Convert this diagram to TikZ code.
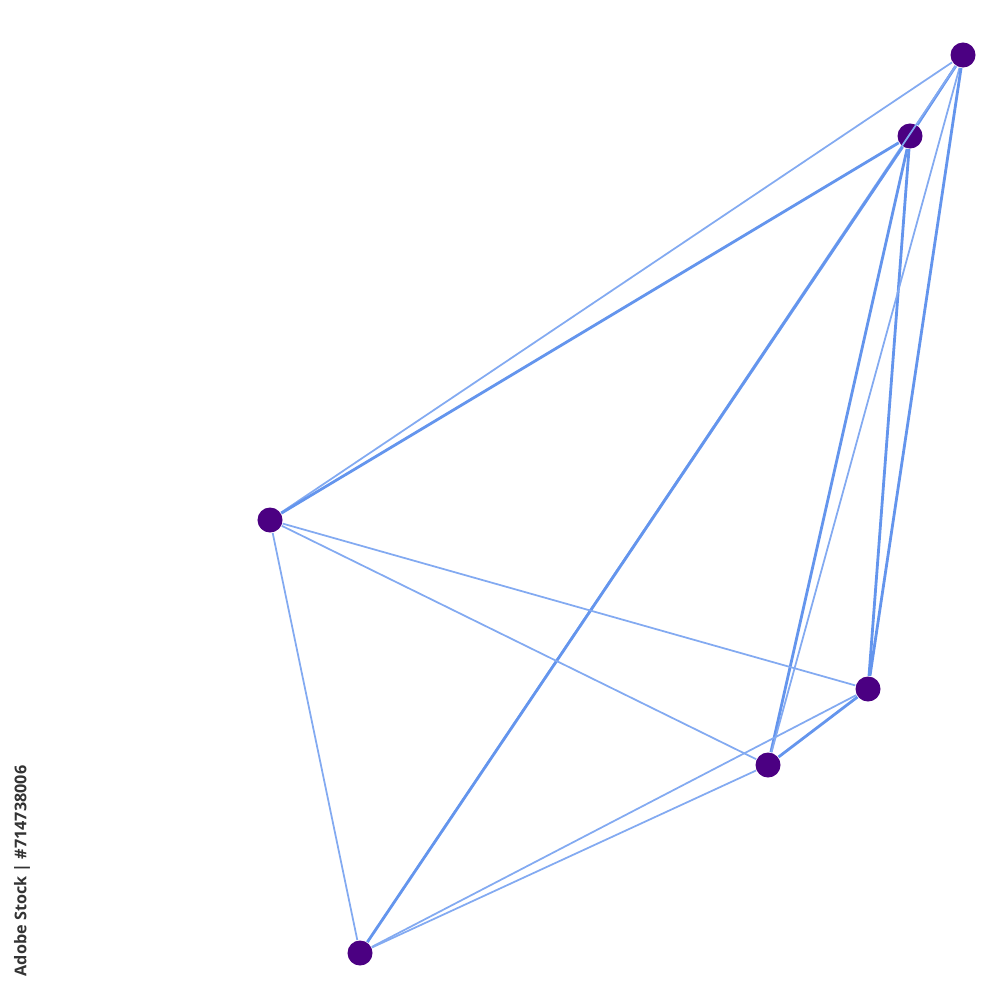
\documentclass[tikz,border=0pt]{standalone}
\usepackage{fontspec}
\setsansfont{Open Sans}
\usepackage{tikz}
\usetikzlibrary{positioning}
\definecolor{edgeblue}{RGB}{100,149,237}
\definecolor{vertexpurple}{RGB}{75,0,130}
\tikzset{vertex/.style={circle,fill=vertexpurple,inner sep=0pt,minimum size=0.25cm},
	link/.style={draw=edgeblue,line width=0.8pt},
	thinlink/.style={draw=edgeblue!80,line width=0.5pt}}

\begin{document}
\begin{tikzpicture}[x=0.01cm,y=-0.01cm]
\useasboundingbox (0,0) rectangle (1000,1000);
\node[vertex](a) at (963,55) {};
\node[vertex](b) at (910,136) {};
\node[vertex](c) at (270,520) {};
\node[vertex](d) at (868,689) {};
\node[vertex](e) at (768,765) {};
\node[vertex](f) at (360,953) {};

\draw	(a) edge[thinlink] (c)
		(b) edge[link] (c)
		(a) edge[link] (b)
		(a) edge[thinlink] (f)
		(b) edge[link] (f)
		(b) edge[link] (e)
		(b) edge[link] (d)
		(a) edge[thinlink] (e)
		(a) edge[link] (d)
		(c) edge[thinlink] (d)
		(c) edge[thinlink] (e)
		(c) edge[thinlink] (f)
		(f) edge[thinlink] (d)
		(f) edge[thinlink] (e)
		(e) edge[link] (d)
		;

\node[rotate=90,anchor=west,inner sep=0pt,font=\sffamily\bfseries\fontsize{4.6}{5}\selectfont,text=black!80] (credit) at (22,977) {Adobe Stock | \#714738006};
\end{tikzpicture}
\end{document}
